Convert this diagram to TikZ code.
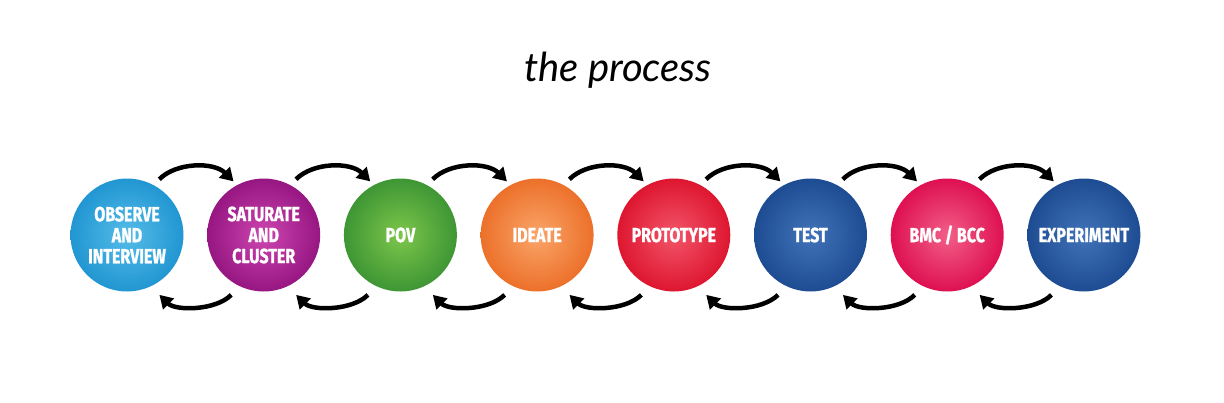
\documentclass[tikz,border=0pt]{standalone}
\usepackage{fontspec}
\usetikzlibrary{positioning,arrows.meta}
\newfontfamily\stagefont{Fira Sans}[FakeStretch=0.78, BoldFeatures={FakeBold=1.2}]
\newfontfamily\titlefont{Lato}

\definecolor{obsOut}{RGB}{33,150,210}
\definecolor{obsIn}{RGB}{85,188,232}
\definecolor{satOut}{RGB}{150,22,130}
\definecolor{satIn}{RGB}{205,70,175}
\definecolor{povOut}{RGB}{62,150,52}
\definecolor{povIn}{RGB}{125,198,75}
\definecolor{ideOut}{RGB}{236,112,42}
\definecolor{ideIn}{RGB}{250,165,105}
\definecolor{proOut}{RGB}{222,22,48}
\definecolor{proIn}{RGB}{242,85,105}
\definecolor{tstOut}{RGB}{30,76,146}
\definecolor{tstIn}{RGB}{65,115,185}
\definecolor{bmcOut}{RGB}{222,16,82}
\definecolor{bmcIn}{RGB}{242,95,135}

\tikzset{
  stage/.style={circle, minimum size=113pt, inner sep=0pt, align=center, text=white,
    font=\stagefont\bfseries\fontsize{20.5}{21}\selectfont, shading=radial},
  fwd/.style={-{Triangle[length=13pt,width=15pt]}, line width=4.5pt, bend left=45,
    shorten <=8pt, shorten >=5pt},
  back/.style={-{Triangle[length=13pt,width=15pt]}, line width=4.5pt, bend left=45,
    shorten <=12pt, shorten >=12pt}
}

\begin{document}
\begin{tikzpicture}[x=1pt,y=1pt,node distance=23.3pt]
\useasboundingbox (0,0) rectangle (1224,-402);

\node[font=\titlefont\itshape\fontsize{40}{44}\selectfont] (title) at (618,-70) {the process};

\node[stage, inner color=obsIn, outer color=obsOut] (observe) at (127,-235) {OBSERVE\\AND\\INTERVIEW};
\node[stage, inner color=satIn, outer color=satOut] (saturate) [right=of observe] {SATURATE\\AND\\CLUSTER};
\node[stage, inner color=povIn, outer color=povOut] (pov) [right=of saturate] {POV};
\node[stage, inner color=ideIn, outer color=ideOut] (ideate) [right=of pov] {IDEATE};
\node[stage, inner color=proIn, outer color=proOut] (prototype) [right=of ideate] {PROTOTYPE};
\node[stage, inner color=tstIn, outer color=tstOut] (test) [right=of prototype] {TEST};
\node[stage, inner color=bmcIn, outer color=bmcOut] (bmc) [right=of test] {BMC / BCC};
\node[stage, inner color=tstIn, outer color=tstOut] (experiment) [right=of bmc] {EXPERIMENT};

\draw [fwd] (observe.62) to (saturate.118);
\draw [fwd] (saturate.62) to (pov.118);
\draw [fwd] (pov.62) to (ideate.118);
\draw [fwd] (ideate.62) to (prototype.118);
\draw [fwd] (prototype.62) to (test.118);
\draw [fwd] (test.62) to (bmc.118);
\draw [fwd] (bmc.62) to (experiment.118);

\draw [back] (saturate.245) to (observe.295);
\draw [back] (pov.245) to (saturate.295);
\draw [back] (ideate.245) to (pov.295);
\draw [back] (prototype.245) to (ideate.295);
\draw [back] (test.245) to (prototype.295);
\draw [back] (bmc.245) to (test.295);
\draw [back] (experiment.245) to (bmc.295);

\end{tikzpicture}
\end{document}
